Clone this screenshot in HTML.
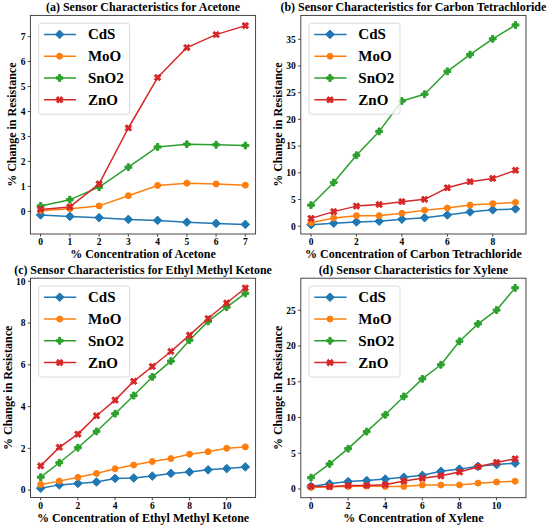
<!DOCTYPE html>
<html><head><meta charset="utf-8"><style>
html,body{margin:0;padding:0;background:#fff;width:550px;height:527px;overflow:hidden}
svg{display:block}
text{font-family:"Liberation Serif", serif;font-weight:bold;fill:#000}
</style></head><body>
<svg width="550" height="527" viewBox="0 0 550 527">
<rect width="550" height="527" fill="#fff"/>
<polyline points="40.60,214.90 69.85,216.39 99.10,217.64 128.35,219.39 157.60,220.39 186.85,222.14 216.10,223.39 245.35,224.38" fill="none" stroke="#1f77b4" stroke-width="1.5" stroke-linejoin="round" stroke-linecap="round"/>
<polygon points="40.60,210.60 44.90,214.90 40.60,219.20 36.30,214.90" fill="#1f77b4" stroke="#1f77b4" stroke-width="1.0" stroke-linejoin="miter"/>
<polygon points="69.85,212.09 74.15,216.39 69.85,220.69 65.55,216.39" fill="#1f77b4" stroke="#1f77b4" stroke-width="1.0" stroke-linejoin="miter"/>
<polygon points="99.10,213.34 103.40,217.64 99.10,221.94 94.80,217.64" fill="#1f77b4" stroke="#1f77b4" stroke-width="1.0" stroke-linejoin="miter"/>
<polygon points="128.35,215.09 132.65,219.39 128.35,223.69 124.05,219.39" fill="#1f77b4" stroke="#1f77b4" stroke-width="1.0" stroke-linejoin="miter"/>
<polygon points="157.60,216.09 161.90,220.39 157.60,224.69 153.30,220.39" fill="#1f77b4" stroke="#1f77b4" stroke-width="1.0" stroke-linejoin="miter"/>
<polygon points="186.85,217.84 191.15,222.14 186.85,226.44 182.55,222.14" fill="#1f77b4" stroke="#1f77b4" stroke-width="1.0" stroke-linejoin="miter"/>
<polygon points="216.10,219.09 220.40,223.39 216.10,227.69 211.80,223.39" fill="#1f77b4" stroke="#1f77b4" stroke-width="1.0" stroke-linejoin="miter"/>
<polygon points="245.35,220.08 249.65,224.38 245.35,228.68 241.05,224.38" fill="#1f77b4" stroke="#1f77b4" stroke-width="1.0" stroke-linejoin="miter"/>
<polyline points="40.60,210.65 69.85,208.65 99.10,205.91 128.35,195.67 157.60,185.43 186.85,183.18 216.10,183.93 245.35,185.18" fill="none" stroke="#ff7f0e" stroke-width="1.5" stroke-linejoin="round" stroke-linecap="round"/>
<circle cx="40.60" cy="210.65" r="3.0" fill="#ff7f0e" stroke="#ff7f0e" stroke-width="1.0" stroke-linejoin="miter"/>
<circle cx="69.85" cy="208.65" r="3.0" fill="#ff7f0e" stroke="#ff7f0e" stroke-width="1.0" stroke-linejoin="miter"/>
<circle cx="99.10" cy="205.91" r="3.0" fill="#ff7f0e" stroke="#ff7f0e" stroke-width="1.0" stroke-linejoin="miter"/>
<circle cx="128.35" cy="195.67" r="3.0" fill="#ff7f0e" stroke="#ff7f0e" stroke-width="1.0" stroke-linejoin="miter"/>
<circle cx="157.60" cy="185.43" r="3.0" fill="#ff7f0e" stroke="#ff7f0e" stroke-width="1.0" stroke-linejoin="miter"/>
<circle cx="186.85" cy="183.18" r="3.0" fill="#ff7f0e" stroke="#ff7f0e" stroke-width="1.0" stroke-linejoin="miter"/>
<circle cx="216.10" cy="183.93" r="3.0" fill="#ff7f0e" stroke="#ff7f0e" stroke-width="1.0" stroke-linejoin="miter"/>
<circle cx="245.35" cy="185.18" r="3.0" fill="#ff7f0e" stroke="#ff7f0e" stroke-width="1.0" stroke-linejoin="miter"/>
<polyline points="40.60,205.91 69.85,199.66 99.10,187.18 128.35,167.20 157.60,146.98 186.85,144.23 216.10,144.73 245.35,145.48" fill="none" stroke="#2ca02c" stroke-width="1.5" stroke-linejoin="round" stroke-linecap="round"/>
<polygon points="39.47,202.51 41.73,202.51 41.73,204.77 44.00,204.77 44.00,207.04 41.73,207.04 41.73,209.31 39.47,209.31 39.47,207.04 37.20,207.04 37.20,204.77 39.47,204.77" fill="#2ca02c" stroke="#2ca02c" stroke-width="1.0" stroke-linejoin="miter"/>
<polygon points="68.72,196.26 70.98,196.26 70.98,198.53 73.25,198.53 73.25,200.80 70.98,200.80 70.98,203.06 68.72,203.06 68.72,200.80 66.45,200.80 66.45,198.53 68.72,198.53" fill="#2ca02c" stroke="#2ca02c" stroke-width="1.0" stroke-linejoin="miter"/>
<polygon points="97.97,183.78 100.23,183.78 100.23,186.05 102.50,186.05 102.50,188.31 100.23,188.31 100.23,190.58 97.97,190.58 97.97,188.31 95.70,188.31 95.70,186.05 97.97,186.05" fill="#2ca02c" stroke="#2ca02c" stroke-width="1.0" stroke-linejoin="miter"/>
<polygon points="127.22,163.80 129.48,163.80 129.48,166.07 131.75,166.07 131.75,168.34 129.48,168.34 129.48,170.60 127.22,170.60 127.22,168.34 124.95,168.34 124.95,166.07 127.22,166.07" fill="#2ca02c" stroke="#2ca02c" stroke-width="1.0" stroke-linejoin="miter"/>
<polygon points="156.47,143.58 158.73,143.58 158.73,145.84 161.00,145.84 161.00,148.11 158.73,148.11 158.73,150.38 156.47,150.38 156.47,148.11 154.20,148.11 154.20,145.84 156.47,145.84" fill="#2ca02c" stroke="#2ca02c" stroke-width="1.0" stroke-linejoin="miter"/>
<polygon points="185.72,140.83 187.98,140.83 187.98,143.10 190.25,143.10 190.25,145.36 187.98,145.36 187.98,147.63 185.72,147.63 185.72,145.36 183.45,145.36 183.45,143.10 185.72,143.10" fill="#2ca02c" stroke="#2ca02c" stroke-width="1.0" stroke-linejoin="miter"/>
<polygon points="214.97,141.33 217.23,141.33 217.23,143.60 219.50,143.60 219.50,145.86 217.23,145.86 217.23,148.13 214.97,148.13 214.97,145.86 212.70,145.86 212.70,143.60 214.97,143.60" fill="#2ca02c" stroke="#2ca02c" stroke-width="1.0" stroke-linejoin="miter"/>
<polygon points="244.22,142.08 246.48,142.08 246.48,144.35 248.75,144.35 248.75,146.61 246.48,146.61 246.48,148.88 244.22,148.88 244.22,146.61 241.95,146.61 241.95,144.35 244.22,144.35" fill="#2ca02c" stroke="#2ca02c" stroke-width="1.0" stroke-linejoin="miter"/>
<polyline points="40.60,209.40 69.85,206.91 99.10,183.93 128.35,128.00 157.60,77.56 186.85,47.60 216.10,34.61 245.35,25.62" fill="none" stroke="#d62728" stroke-width="1.5" stroke-linejoin="round" stroke-linecap="round"/>
<polygon points="38.95,206.10 40.60,207.75 42.25,206.10 43.90,207.75 42.25,209.40 43.90,211.05 42.25,212.70 40.60,211.05 38.95,212.70 37.30,211.05 38.95,209.40 37.30,207.75" fill="#d62728" stroke="#d62728" stroke-width="1.0" stroke-linejoin="miter"/>
<polygon points="68.20,203.61 69.85,205.26 71.50,203.61 73.15,205.26 71.50,206.91 73.15,208.56 71.50,210.21 69.85,208.56 68.20,210.21 66.55,208.56 68.20,206.91 66.55,205.26" fill="#d62728" stroke="#d62728" stroke-width="1.0" stroke-linejoin="miter"/>
<polygon points="97.45,180.63 99.10,182.28 100.75,180.63 102.40,182.28 100.75,183.93 102.40,185.58 100.75,187.23 99.10,185.58 97.45,187.23 95.80,185.58 97.45,183.93 95.80,182.28" fill="#d62728" stroke="#d62728" stroke-width="1.0" stroke-linejoin="miter"/>
<polygon points="126.70,124.70 128.35,126.35 130.00,124.70 131.65,126.35 130.00,128.00 131.65,129.65 130.00,131.30 128.35,129.65 126.70,131.30 125.05,129.65 126.70,128.00 125.05,126.35" fill="#d62728" stroke="#d62728" stroke-width="1.0" stroke-linejoin="miter"/>
<polygon points="155.95,74.26 157.60,75.91 159.25,74.26 160.90,75.91 159.25,77.56 160.90,79.21 159.25,80.86 157.60,79.21 155.95,80.86 154.30,79.21 155.95,77.56 154.30,75.91" fill="#d62728" stroke="#d62728" stroke-width="1.0" stroke-linejoin="miter"/>
<polygon points="185.20,44.30 186.85,45.95 188.50,44.30 190.15,45.95 188.50,47.60 190.15,49.25 188.50,50.90 186.85,49.25 185.20,50.90 183.55,49.25 185.20,47.60 183.55,45.95" fill="#d62728" stroke="#d62728" stroke-width="1.0" stroke-linejoin="miter"/>
<polygon points="214.45,31.31 216.10,32.96 217.75,31.31 219.40,32.96 217.75,34.61 219.40,36.26 217.75,37.91 216.10,36.26 214.45,37.91 212.80,36.26 214.45,34.61 212.80,32.96" fill="#d62728" stroke="#d62728" stroke-width="1.0" stroke-linejoin="miter"/>
<polygon points="243.70,22.32 245.35,23.97 247.00,22.32 248.65,23.97 247.00,25.62 248.65,27.27 247.00,28.92 245.35,27.27 243.70,28.92 242.05,27.27 243.70,25.62 242.05,23.97" fill="#d62728" stroke="#d62728" stroke-width="1.0" stroke-linejoin="miter"/>
<rect x="30.4" y="15.4" width="225.2" height="218.6" fill="none" stroke="#333" stroke-width="0.9"/>
<line x1="40.60" y1="234.0" x2="40.60" y2="236.7" stroke="#333" stroke-width="0.9"/>
<text x="40.60" y="245.4" text-anchor="middle" font-size="9.5">0</text>
<line x1="69.85" y1="234.0" x2="69.85" y2="236.7" stroke="#333" stroke-width="0.9"/>
<text x="69.85" y="245.4" text-anchor="middle" font-size="9.5">1</text>
<line x1="99.10" y1="234.0" x2="99.10" y2="236.7" stroke="#333" stroke-width="0.9"/>
<text x="99.10" y="245.4" text-anchor="middle" font-size="9.5">2</text>
<line x1="128.35" y1="234.0" x2="128.35" y2="236.7" stroke="#333" stroke-width="0.9"/>
<text x="128.35" y="245.4" text-anchor="middle" font-size="9.5">3</text>
<line x1="157.60" y1="234.0" x2="157.60" y2="236.7" stroke="#333" stroke-width="0.9"/>
<text x="157.60" y="245.4" text-anchor="middle" font-size="9.5">4</text>
<line x1="186.85" y1="234.0" x2="186.85" y2="236.7" stroke="#333" stroke-width="0.9"/>
<text x="186.85" y="245.4" text-anchor="middle" font-size="9.5">5</text>
<line x1="216.10" y1="234.0" x2="216.10" y2="236.7" stroke="#333" stroke-width="0.9"/>
<text x="216.10" y="245.4" text-anchor="middle" font-size="9.5">6</text>
<line x1="245.35" y1="234.0" x2="245.35" y2="236.7" stroke="#333" stroke-width="0.9"/>
<text x="245.35" y="245.4" text-anchor="middle" font-size="9.5">7</text>
<line x1="27.7" y1="211.40" x2="30.4" y2="211.40" stroke="#333" stroke-width="0.9"/>
<text x="25.4" y="214.70" text-anchor="end" font-size="9.5">0</text>
<line x1="27.7" y1="186.43" x2="30.4" y2="186.43" stroke="#333" stroke-width="0.9"/>
<text x="25.4" y="189.73" text-anchor="end" font-size="9.5">1</text>
<line x1="27.7" y1="161.46" x2="30.4" y2="161.46" stroke="#333" stroke-width="0.9"/>
<text x="25.4" y="164.76" text-anchor="end" font-size="9.5">2</text>
<line x1="27.7" y1="136.49" x2="30.4" y2="136.49" stroke="#333" stroke-width="0.9"/>
<text x="25.4" y="139.79" text-anchor="end" font-size="9.5">3</text>
<line x1="27.7" y1="111.52" x2="30.4" y2="111.52" stroke="#333" stroke-width="0.9"/>
<text x="25.4" y="114.82" text-anchor="end" font-size="9.5">4</text>
<line x1="27.7" y1="86.55" x2="30.4" y2="86.55" stroke="#333" stroke-width="0.9"/>
<text x="25.4" y="89.85" text-anchor="end" font-size="9.5">5</text>
<line x1="27.7" y1="61.58" x2="30.4" y2="61.58" stroke="#333" stroke-width="0.9"/>
<text x="25.4" y="64.88" text-anchor="end" font-size="9.5">6</text>
<line x1="27.7" y1="36.61" x2="30.4" y2="36.61" stroke="#333" stroke-width="0.9"/>
<text x="25.4" y="39.91" text-anchor="end" font-size="9.5">7</text>
<text x="143.0" y="11.100000000000001" text-anchor="middle" font-size="12">(a) Sensor Characteristics for Acetone</text>
<text x="143.0" y="258.2" text-anchor="middle" font-size="12">% Concentration of Acetone</text>
<text transform="translate(16.299999999999997,124.7) rotate(-90)" x="0" y="0" text-anchor="middle" font-size="12">% Change in Resistance</text>
<rect x="38.599999999999994" y="23.2" width="91" height="91" rx="2.5" fill="#fff" fill-opacity="0.8" stroke="#d6d6d6" stroke-width="0.9"/>
<line x1="43.89999999999999" y1="34.4" x2="76.1" y2="34.4" stroke="#1f77b4" stroke-width="1.5"/>
<polygon points="59.60,30.10 63.90,34.40 59.60,38.70 55.30,34.40" fill="#1f77b4" stroke="#1f77b4" stroke-width="1.0" stroke-linejoin="miter"/>
<text x="87.89999999999999" y="39.3" font-size="15">CdS</text>
<line x1="43.89999999999999" y1="56.2" x2="76.1" y2="56.2" stroke="#ff7f0e" stroke-width="1.5"/>
<circle cx="59.60" cy="56.20" r="3.0" fill="#ff7f0e" stroke="#ff7f0e" stroke-width="1.0" stroke-linejoin="miter"/>
<text x="87.89999999999999" y="61.1" font-size="15">MoO</text>
<line x1="43.89999999999999" y1="78.0" x2="76.1" y2="78.0" stroke="#2ca02c" stroke-width="1.5"/>
<polygon points="58.47,74.60 60.73,74.60 60.73,76.87 63.00,76.87 63.00,79.13 60.73,79.13 60.73,81.40 58.47,81.40 58.47,79.13 56.20,79.13 56.20,76.87 58.47,76.87" fill="#2ca02c" stroke="#2ca02c" stroke-width="1.0" stroke-linejoin="miter"/>
<text x="87.89999999999999" y="82.9" font-size="15">SnO2</text>
<line x1="43.89999999999999" y1="99.80000000000001" x2="76.1" y2="99.80000000000001" stroke="#d62728" stroke-width="1.5"/>
<polygon points="57.95,96.50 59.60,98.15 61.25,96.50 62.90,98.15 61.25,99.80 62.90,101.45 61.25,103.10 59.60,101.45 57.95,103.10 56.30,101.45 57.95,99.80 56.30,98.15" fill="#d62728" stroke="#d62728" stroke-width="1.0" stroke-linejoin="miter"/>
<text x="87.89999999999999" y="104.70000000000002" font-size="15">ZnO</text>
<polyline points="311.00,224.70 333.72,223.21 356.44,221.93 379.16,221.23 401.88,219.20 424.60,217.71 447.32,215.04 470.04,211.94 492.76,209.86 515.48,208.90" fill="none" stroke="#1f77b4" stroke-width="1.5" stroke-linejoin="round" stroke-linecap="round"/>
<polygon points="311.00,220.40 315.30,224.70 311.00,229.00 306.70,224.70" fill="#1f77b4" stroke="#1f77b4" stroke-width="1.0" stroke-linejoin="miter"/>
<polygon points="333.72,218.91 338.02,223.21 333.72,227.51 329.42,223.21" fill="#1f77b4" stroke="#1f77b4" stroke-width="1.0" stroke-linejoin="miter"/>
<polygon points="356.44,217.63 360.74,221.93 356.44,226.23 352.14,221.93" fill="#1f77b4" stroke="#1f77b4" stroke-width="1.0" stroke-linejoin="miter"/>
<polygon points="379.16,216.93 383.46,221.23 379.16,225.53 374.86,221.23" fill="#1f77b4" stroke="#1f77b4" stroke-width="1.0" stroke-linejoin="miter"/>
<polygon points="401.88,214.90 406.18,219.20 401.88,223.50 397.58,219.20" fill="#1f77b4" stroke="#1f77b4" stroke-width="1.0" stroke-linejoin="miter"/>
<polygon points="424.60,213.41 428.90,217.71 424.60,222.01 420.30,217.71" fill="#1f77b4" stroke="#1f77b4" stroke-width="1.0" stroke-linejoin="miter"/>
<polygon points="447.32,210.74 451.62,215.04 447.32,219.34 443.02,215.04" fill="#1f77b4" stroke="#1f77b4" stroke-width="1.0" stroke-linejoin="miter"/>
<polygon points="470.04,207.64 474.34,211.94 470.04,216.24 465.74,211.94" fill="#1f77b4" stroke="#1f77b4" stroke-width="1.0" stroke-linejoin="miter"/>
<polygon points="492.76,205.56 497.06,209.86 492.76,214.16 488.46,209.86" fill="#1f77b4" stroke="#1f77b4" stroke-width="1.0" stroke-linejoin="miter"/>
<polygon points="515.48,204.60 519.78,208.90 515.48,213.20 511.18,208.90" fill="#1f77b4" stroke="#1f77b4" stroke-width="1.0" stroke-linejoin="miter"/>
<polyline points="311.00,222.73 333.72,217.92 356.44,215.68 379.16,215.63 401.88,213.28 424.60,210.23 447.32,207.99 470.04,205.11 492.76,203.67 515.48,202.38" fill="none" stroke="#ff7f0e" stroke-width="1.5" stroke-linejoin="round" stroke-linecap="round"/>
<circle cx="311.00" cy="222.73" r="3.0" fill="#ff7f0e" stroke="#ff7f0e" stroke-width="1.0" stroke-linejoin="miter"/>
<circle cx="333.72" cy="217.92" r="3.0" fill="#ff7f0e" stroke="#ff7f0e" stroke-width="1.0" stroke-linejoin="miter"/>
<circle cx="356.44" cy="215.68" r="3.0" fill="#ff7f0e" stroke="#ff7f0e" stroke-width="1.0" stroke-linejoin="miter"/>
<circle cx="379.16" cy="215.63" r="3.0" fill="#ff7f0e" stroke="#ff7f0e" stroke-width="1.0" stroke-linejoin="miter"/>
<circle cx="401.88" cy="213.28" r="3.0" fill="#ff7f0e" stroke="#ff7f0e" stroke-width="1.0" stroke-linejoin="miter"/>
<circle cx="424.60" cy="210.23" r="3.0" fill="#ff7f0e" stroke="#ff7f0e" stroke-width="1.0" stroke-linejoin="miter"/>
<circle cx="447.32" cy="207.99" r="3.0" fill="#ff7f0e" stroke="#ff7f0e" stroke-width="1.0" stroke-linejoin="miter"/>
<circle cx="470.04" cy="205.11" r="3.0" fill="#ff7f0e" stroke="#ff7f0e" stroke-width="1.0" stroke-linejoin="miter"/>
<circle cx="492.76" cy="203.67" r="3.0" fill="#ff7f0e" stroke="#ff7f0e" stroke-width="1.0" stroke-linejoin="miter"/>
<circle cx="515.48" cy="202.38" r="3.0" fill="#ff7f0e" stroke="#ff7f0e" stroke-width="1.0" stroke-linejoin="miter"/>
<polyline points="311.00,205.16 333.72,182.52 356.44,155.23 379.16,131.41 401.88,100.98 424.60,94.20 447.32,71.34 470.04,54.57 492.76,38.82 515.48,24.99" fill="none" stroke="#2ca02c" stroke-width="1.5" stroke-linejoin="round" stroke-linecap="round"/>
<polygon points="309.87,201.76 312.13,201.76 312.13,204.03 314.40,204.03 314.40,206.29 312.13,206.29 312.13,208.56 309.87,208.56 309.87,206.29 307.60,206.29 307.60,204.03 309.87,204.03" fill="#2ca02c" stroke="#2ca02c" stroke-width="1.0" stroke-linejoin="miter"/>
<polygon points="332.59,179.12 334.85,179.12 334.85,181.39 337.12,181.39 337.12,183.65 334.85,183.65 334.85,185.92 332.59,185.92 332.59,183.65 330.32,183.65 330.32,181.39 332.59,181.39" fill="#2ca02c" stroke="#2ca02c" stroke-width="1.0" stroke-linejoin="miter"/>
<polygon points="355.31,151.83 357.57,151.83 357.57,154.10 359.84,154.10 359.84,156.36 357.57,156.36 357.57,158.63 355.31,158.63 355.31,156.36 353.04,156.36 353.04,154.10 355.31,154.10" fill="#2ca02c" stroke="#2ca02c" stroke-width="1.0" stroke-linejoin="miter"/>
<polygon points="378.03,128.01 380.29,128.01 380.29,130.28 382.56,130.28 382.56,132.55 380.29,132.55 380.29,134.81 378.03,134.81 378.03,132.55 375.76,132.55 375.76,130.28 378.03,130.28" fill="#2ca02c" stroke="#2ca02c" stroke-width="1.0" stroke-linejoin="miter"/>
<polygon points="400.75,97.58 403.01,97.58 403.01,99.84 405.28,99.84 405.28,102.11 403.01,102.11 403.01,104.38 400.75,104.38 400.75,102.11 398.48,102.11 398.48,99.84 400.75,99.84" fill="#2ca02c" stroke="#2ca02c" stroke-width="1.0" stroke-linejoin="miter"/>
<polygon points="423.47,90.80 425.73,90.80 425.73,93.06 428.00,93.06 428.00,95.33 425.73,95.33 425.73,97.60 423.47,97.60 423.47,95.33 421.20,95.33 421.20,93.06 423.47,93.06" fill="#2ca02c" stroke="#2ca02c" stroke-width="1.0" stroke-linejoin="miter"/>
<polygon points="446.19,67.94 448.45,67.94 448.45,70.21 450.72,70.21 450.72,72.47 448.45,72.47 448.45,74.74 446.19,74.74 446.19,72.47 443.92,72.47 443.92,70.21 446.19,70.21" fill="#2ca02c" stroke="#2ca02c" stroke-width="1.0" stroke-linejoin="miter"/>
<polygon points="468.91,51.17 471.17,51.17 471.17,53.44 473.44,53.44 473.44,55.71 471.17,55.71 471.17,57.97 468.91,57.97 468.91,55.71 466.64,55.71 466.64,53.44 468.91,53.44" fill="#2ca02c" stroke="#2ca02c" stroke-width="1.0" stroke-linejoin="miter"/>
<polygon points="491.63,35.42 493.89,35.42 493.89,37.69 496.16,37.69 496.16,39.95 493.89,39.95 493.89,42.22 491.63,42.22 491.63,39.95 489.36,39.95 489.36,37.69 491.63,37.69" fill="#2ca02c" stroke="#2ca02c" stroke-width="1.0" stroke-linejoin="miter"/>
<polygon points="514.35,21.59 516.61,21.59 516.61,23.86 518.88,23.86 518.88,26.12 516.61,26.12 516.61,28.39 514.35,28.39 514.35,26.12 512.08,26.12 512.08,23.86 514.35,23.86" fill="#2ca02c" stroke="#2ca02c" stroke-width="1.0" stroke-linejoin="miter"/>
<polyline points="311.00,218.40 333.72,211.62 356.44,206.12 379.16,204.52 401.88,201.64 424.60,199.34 447.32,187.81 470.04,181.72 492.76,178.41 515.48,170.24" fill="none" stroke="#d62728" stroke-width="1.5" stroke-linejoin="round" stroke-linecap="round"/>
<polygon points="309.35,215.10 311.00,216.75 312.65,215.10 314.30,216.75 312.65,218.40 314.30,220.05 312.65,221.70 311.00,220.05 309.35,221.70 307.70,220.05 309.35,218.40 307.70,216.75" fill="#d62728" stroke="#d62728" stroke-width="1.0" stroke-linejoin="miter"/>
<polygon points="332.07,208.32 333.72,209.97 335.37,208.32 337.02,209.97 335.37,211.62 337.02,213.27 335.37,214.92 333.72,213.27 332.07,214.92 330.42,213.27 332.07,211.62 330.42,209.97" fill="#d62728" stroke="#d62728" stroke-width="1.0" stroke-linejoin="miter"/>
<polygon points="354.79,202.82 356.44,204.47 358.09,202.82 359.74,204.47 358.09,206.12 359.74,207.77 358.09,209.42 356.44,207.77 354.79,209.42 353.14,207.77 354.79,206.12 353.14,204.47" fill="#d62728" stroke="#d62728" stroke-width="1.0" stroke-linejoin="miter"/>
<polygon points="377.51,201.22 379.16,202.87 380.81,201.22 382.46,202.87 380.81,204.52 382.46,206.17 380.81,207.82 379.16,206.17 377.51,207.82 375.86,206.17 377.51,204.52 375.86,202.87" fill="#d62728" stroke="#d62728" stroke-width="1.0" stroke-linejoin="miter"/>
<polygon points="400.23,198.34 401.88,199.99 403.53,198.34 405.18,199.99 403.53,201.64 405.18,203.29 403.53,204.94 401.88,203.29 400.23,204.94 398.58,203.29 400.23,201.64 398.58,199.99" fill="#d62728" stroke="#d62728" stroke-width="1.0" stroke-linejoin="miter"/>
<polygon points="422.95,196.04 424.60,197.69 426.25,196.04 427.90,197.69 426.25,199.34 427.90,200.99 426.25,202.64 424.60,200.99 422.95,202.64 421.30,200.99 422.95,199.34 421.30,197.69" fill="#d62728" stroke="#d62728" stroke-width="1.0" stroke-linejoin="miter"/>
<polygon points="445.67,184.51 447.32,186.16 448.97,184.51 450.62,186.16 448.97,187.81 450.62,189.46 448.97,191.11 447.32,189.46 445.67,191.11 444.02,189.46 445.67,187.81 444.02,186.16" fill="#d62728" stroke="#d62728" stroke-width="1.0" stroke-linejoin="miter"/>
<polygon points="468.39,178.42 470.04,180.07 471.69,178.42 473.34,180.07 471.69,181.72 473.34,183.37 471.69,185.02 470.04,183.37 468.39,185.02 466.74,183.37 468.39,181.72 466.74,180.07" fill="#d62728" stroke="#d62728" stroke-width="1.0" stroke-linejoin="miter"/>
<polygon points="491.11,175.11 492.76,176.76 494.41,175.11 496.06,176.76 494.41,178.41 496.06,180.06 494.41,181.71 492.76,180.06 491.11,181.71 489.46,180.06 491.11,178.41 489.46,176.76" fill="#d62728" stroke="#d62728" stroke-width="1.0" stroke-linejoin="miter"/>
<polygon points="513.83,166.94 515.48,168.59 517.13,166.94 518.78,168.59 517.13,170.24 518.78,171.89 517.13,173.54 515.48,171.89 513.83,173.54 512.18,171.89 513.83,170.24 512.18,168.59" fill="#d62728" stroke="#d62728" stroke-width="1.0" stroke-linejoin="miter"/>
<rect x="300.8" y="15.4" width="225.2" height="218.6" fill="none" stroke="#333" stroke-width="0.9"/>
<line x1="311.00" y1="234.0" x2="311.00" y2="236.7" stroke="#333" stroke-width="0.9"/>
<text x="311.00" y="245.4" text-anchor="middle" font-size="9.5">0</text>
<line x1="356.44" y1="234.0" x2="356.44" y2="236.7" stroke="#333" stroke-width="0.9"/>
<text x="356.44" y="245.4" text-anchor="middle" font-size="9.5">2</text>
<line x1="401.88" y1="234.0" x2="401.88" y2="236.7" stroke="#333" stroke-width="0.9"/>
<text x="401.88" y="245.4" text-anchor="middle" font-size="9.5">4</text>
<line x1="447.32" y1="234.0" x2="447.32" y2="236.7" stroke="#333" stroke-width="0.9"/>
<text x="447.32" y="245.4" text-anchor="middle" font-size="9.5">6</text>
<line x1="492.76" y1="234.0" x2="492.76" y2="236.7" stroke="#333" stroke-width="0.9"/>
<text x="492.76" y="245.4" text-anchor="middle" font-size="9.5">8</text>
<line x1="298.1" y1="226.20" x2="300.8" y2="226.20" stroke="#333" stroke-width="0.9"/>
<text x="295.8" y="229.50" text-anchor="end" font-size="9.5">0</text>
<line x1="298.1" y1="199.50" x2="300.8" y2="199.50" stroke="#333" stroke-width="0.9"/>
<text x="295.8" y="202.80" text-anchor="end" font-size="9.5">5</text>
<line x1="298.1" y1="172.80" x2="300.8" y2="172.80" stroke="#333" stroke-width="0.9"/>
<text x="295.8" y="176.10" text-anchor="end" font-size="9.5">10</text>
<line x1="298.1" y1="146.10" x2="300.8" y2="146.10" stroke="#333" stroke-width="0.9"/>
<text x="295.8" y="149.40" text-anchor="end" font-size="9.5">15</text>
<line x1="298.1" y1="119.40" x2="300.8" y2="119.40" stroke="#333" stroke-width="0.9"/>
<text x="295.8" y="122.70" text-anchor="end" font-size="9.5">20</text>
<line x1="298.1" y1="92.70" x2="300.8" y2="92.70" stroke="#333" stroke-width="0.9"/>
<text x="295.8" y="96.00" text-anchor="end" font-size="9.5">25</text>
<line x1="298.1" y1="66.00" x2="300.8" y2="66.00" stroke="#333" stroke-width="0.9"/>
<text x="295.8" y="69.30" text-anchor="end" font-size="9.5">30</text>
<line x1="298.1" y1="39.30" x2="300.8" y2="39.30" stroke="#333" stroke-width="0.9"/>
<text x="295.8" y="42.60" text-anchor="end" font-size="9.5">35</text>
<text x="413.4" y="11.100000000000001" text-anchor="middle" font-size="12">(b) Sensor Characteristics for Carbon Tetrachloride</text>
<text x="413.4" y="258.2" text-anchor="middle" font-size="12">% Concentration of Carbon Tetrachloride</text>
<text transform="translate(282.40000000000003,124.7) rotate(-90)" x="0" y="0" text-anchor="middle" font-size="12">% Change in Resistance</text>
<rect x="309.0" y="23.2" width="91" height="91" rx="2.5" fill="#fff" fill-opacity="0.8" stroke="#d6d6d6" stroke-width="0.9"/>
<line x1="314.3" y1="34.4" x2="346.5" y2="34.4" stroke="#1f77b4" stroke-width="1.5"/>
<polygon points="330.00,30.10 334.30,34.40 330.00,38.70 325.70,34.40" fill="#1f77b4" stroke="#1f77b4" stroke-width="1.0" stroke-linejoin="miter"/>
<text x="358.3" y="39.3" font-size="15">CdS</text>
<line x1="314.3" y1="56.2" x2="346.5" y2="56.2" stroke="#ff7f0e" stroke-width="1.5"/>
<circle cx="330.00" cy="56.20" r="3.0" fill="#ff7f0e" stroke="#ff7f0e" stroke-width="1.0" stroke-linejoin="miter"/>
<text x="358.3" y="61.1" font-size="15">MoO</text>
<line x1="314.3" y1="78.0" x2="346.5" y2="78.0" stroke="#2ca02c" stroke-width="1.5"/>
<polygon points="328.87,74.60 331.13,74.60 331.13,76.87 333.40,76.87 333.40,79.13 331.13,79.13 331.13,81.40 328.87,81.40 328.87,79.13 326.60,79.13 326.60,76.87 328.87,76.87" fill="#2ca02c" stroke="#2ca02c" stroke-width="1.0" stroke-linejoin="miter"/>
<text x="358.3" y="82.9" font-size="15">SnO2</text>
<line x1="314.3" y1="99.80000000000001" x2="346.5" y2="99.80000000000001" stroke="#d62728" stroke-width="1.5"/>
<polygon points="328.35,96.50 330.00,98.15 331.65,96.50 333.30,98.15 331.65,99.80 333.30,101.45 331.65,103.10 330.00,101.45 328.35,103.10 326.70,101.45 328.35,99.80 326.70,98.15" fill="#d62728" stroke="#d62728" stroke-width="1.0" stroke-linejoin="miter"/>
<text x="358.3" y="104.70000000000002" font-size="15">ZnO</text>
<polyline points="40.70,488.22 59.30,484.88 77.90,483.42 96.50,481.96 115.10,478.41 133.70,477.99 152.30,476.11 170.90,473.40 189.50,471.93 208.10,469.85 226.70,468.59 245.30,466.92" fill="none" stroke="#1f77b4" stroke-width="1.5" stroke-linejoin="round" stroke-linecap="round"/>
<polygon points="40.70,483.92 45.00,488.22 40.70,492.52 36.40,488.22" fill="#1f77b4" stroke="#1f77b4" stroke-width="1.0" stroke-linejoin="miter"/>
<polygon points="59.30,480.58 63.60,484.88 59.30,489.18 55.00,484.88" fill="#1f77b4" stroke="#1f77b4" stroke-width="1.0" stroke-linejoin="miter"/>
<polygon points="77.90,479.12 82.20,483.42 77.90,487.72 73.60,483.42" fill="#1f77b4" stroke="#1f77b4" stroke-width="1.0" stroke-linejoin="miter"/>
<polygon points="96.50,477.66 100.80,481.96 96.50,486.26 92.20,481.96" fill="#1f77b4" stroke="#1f77b4" stroke-width="1.0" stroke-linejoin="miter"/>
<polygon points="115.10,474.11 119.40,478.41 115.10,482.71 110.80,478.41" fill="#1f77b4" stroke="#1f77b4" stroke-width="1.0" stroke-linejoin="miter"/>
<polygon points="133.70,473.69 138.00,477.99 133.70,482.29 129.40,477.99" fill="#1f77b4" stroke="#1f77b4" stroke-width="1.0" stroke-linejoin="miter"/>
<polygon points="152.30,471.81 156.60,476.11 152.30,480.41 148.00,476.11" fill="#1f77b4" stroke="#1f77b4" stroke-width="1.0" stroke-linejoin="miter"/>
<polygon points="170.90,469.10 175.20,473.40 170.90,477.70 166.60,473.40" fill="#1f77b4" stroke="#1f77b4" stroke-width="1.0" stroke-linejoin="miter"/>
<polygon points="189.50,467.63 193.80,471.93 189.50,476.23 185.20,471.93" fill="#1f77b4" stroke="#1f77b4" stroke-width="1.0" stroke-linejoin="miter"/>
<polygon points="208.10,465.55 212.40,469.85 208.10,474.15 203.80,469.85" fill="#1f77b4" stroke="#1f77b4" stroke-width="1.0" stroke-linejoin="miter"/>
<polygon points="226.70,464.29 231.00,468.59 226.70,472.89 222.40,468.59" fill="#1f77b4" stroke="#1f77b4" stroke-width="1.0" stroke-linejoin="miter"/>
<polygon points="245.30,462.62 249.60,466.92 245.30,471.22 241.00,466.92" fill="#1f77b4" stroke="#1f77b4" stroke-width="1.0" stroke-linejoin="miter"/>
<polyline points="40.70,484.46 59.30,481.12 77.90,477.36 96.50,473.40 115.10,468.80 133.70,465.04 152.30,461.49 170.90,458.57 189.50,454.19 208.10,451.68 226.70,448.34 245.30,446.88" fill="none" stroke="#ff7f0e" stroke-width="1.5" stroke-linejoin="round" stroke-linecap="round"/>
<circle cx="40.70" cy="484.46" r="3.0" fill="#ff7f0e" stroke="#ff7f0e" stroke-width="1.0" stroke-linejoin="miter"/>
<circle cx="59.30" cy="481.12" r="3.0" fill="#ff7f0e" stroke="#ff7f0e" stroke-width="1.0" stroke-linejoin="miter"/>
<circle cx="77.90" cy="477.36" r="3.0" fill="#ff7f0e" stroke="#ff7f0e" stroke-width="1.0" stroke-linejoin="miter"/>
<circle cx="96.50" cy="473.40" r="3.0" fill="#ff7f0e" stroke="#ff7f0e" stroke-width="1.0" stroke-linejoin="miter"/>
<circle cx="115.10" cy="468.80" r="3.0" fill="#ff7f0e" stroke="#ff7f0e" stroke-width="1.0" stroke-linejoin="miter"/>
<circle cx="133.70" cy="465.04" r="3.0" fill="#ff7f0e" stroke="#ff7f0e" stroke-width="1.0" stroke-linejoin="miter"/>
<circle cx="152.30" cy="461.49" r="3.0" fill="#ff7f0e" stroke="#ff7f0e" stroke-width="1.0" stroke-linejoin="miter"/>
<circle cx="170.90" cy="458.57" r="3.0" fill="#ff7f0e" stroke="#ff7f0e" stroke-width="1.0" stroke-linejoin="miter"/>
<circle cx="189.50" cy="454.19" r="3.0" fill="#ff7f0e" stroke="#ff7f0e" stroke-width="1.0" stroke-linejoin="miter"/>
<circle cx="208.10" cy="451.68" r="3.0" fill="#ff7f0e" stroke="#ff7f0e" stroke-width="1.0" stroke-linejoin="miter"/>
<circle cx="226.70" cy="448.34" r="3.0" fill="#ff7f0e" stroke="#ff7f0e" stroke-width="1.0" stroke-linejoin="miter"/>
<circle cx="245.30" cy="446.88" r="3.0" fill="#ff7f0e" stroke="#ff7f0e" stroke-width="1.0" stroke-linejoin="miter"/>
<polyline points="40.70,477.15 59.30,462.75 77.90,447.71 96.50,431.43 115.10,413.68 133.70,395.51 152.30,376.93 170.90,361.06 189.50,340.18 208.10,321.39 226.70,307.19 245.30,293.41" fill="none" stroke="#2ca02c" stroke-width="1.5" stroke-linejoin="round" stroke-linecap="round"/>
<polygon points="39.57,473.75 41.83,473.75 41.83,476.02 44.10,476.02 44.10,478.29 41.83,478.29 41.83,480.55 39.57,480.55 39.57,478.29 37.30,478.29 37.30,476.02 39.57,476.02" fill="#2ca02c" stroke="#2ca02c" stroke-width="1.0" stroke-linejoin="miter"/>
<polygon points="58.17,459.35 60.43,459.35 60.43,461.61 62.70,461.61 62.70,463.88 60.43,463.88 60.43,466.15 58.17,466.15 58.17,463.88 55.90,463.88 55.90,461.61 58.17,461.61" fill="#2ca02c" stroke="#2ca02c" stroke-width="1.0" stroke-linejoin="miter"/>
<polygon points="76.77,444.31 79.03,444.31 79.03,446.58 81.30,446.58 81.30,448.85 79.03,448.85 79.03,451.11 76.77,451.11 76.77,448.85 74.50,448.85 74.50,446.58 76.77,446.58" fill="#2ca02c" stroke="#2ca02c" stroke-width="1.0" stroke-linejoin="miter"/>
<polygon points="95.37,428.03 97.63,428.03 97.63,430.29 99.90,430.29 99.90,432.56 97.63,432.56 97.63,434.83 95.37,434.83 95.37,432.56 93.10,432.56 93.10,430.29 95.37,430.29" fill="#2ca02c" stroke="#2ca02c" stroke-width="1.0" stroke-linejoin="miter"/>
<polygon points="113.97,410.28 116.23,410.28 116.23,412.55 118.50,412.55 118.50,414.81 116.23,414.81 116.23,417.08 113.97,417.08 113.97,414.81 111.70,414.81 111.70,412.55 113.97,412.55" fill="#2ca02c" stroke="#2ca02c" stroke-width="1.0" stroke-linejoin="miter"/>
<polygon points="132.57,392.11 134.83,392.11 134.83,394.38 137.10,394.38 137.10,396.65 134.83,396.65 134.83,398.91 132.57,398.91 132.57,396.65 130.30,396.65 130.30,394.38 132.57,394.38" fill="#2ca02c" stroke="#2ca02c" stroke-width="1.0" stroke-linejoin="miter"/>
<polygon points="151.17,373.53 153.43,373.53 153.43,375.80 155.70,375.80 155.70,378.06 153.43,378.06 153.43,380.33 151.17,380.33 151.17,378.06 148.90,378.06 148.90,375.80 151.17,375.80" fill="#2ca02c" stroke="#2ca02c" stroke-width="1.0" stroke-linejoin="miter"/>
<polygon points="169.77,357.66 172.03,357.66 172.03,359.93 174.30,359.93 174.30,362.19 172.03,362.19 172.03,364.46 169.77,364.46 169.77,362.19 167.50,362.19 167.50,359.93 169.77,359.93" fill="#2ca02c" stroke="#2ca02c" stroke-width="1.0" stroke-linejoin="miter"/>
<polygon points="188.37,336.78 190.63,336.78 190.63,339.05 192.90,339.05 192.90,341.31 190.63,341.31 190.63,343.58 188.37,343.58 188.37,341.31 186.10,341.31 186.10,339.05 188.37,339.05" fill="#2ca02c" stroke="#2ca02c" stroke-width="1.0" stroke-linejoin="miter"/>
<polygon points="206.97,317.99 209.23,317.99 209.23,320.26 211.50,320.26 211.50,322.52 209.23,322.52 209.23,324.79 206.97,324.79 206.97,322.52 204.70,322.52 204.70,320.26 206.97,320.26" fill="#2ca02c" stroke="#2ca02c" stroke-width="1.0" stroke-linejoin="miter"/>
<polygon points="225.57,303.79 227.83,303.79 227.83,306.06 230.10,306.06 230.10,308.32 227.83,308.32 227.83,310.59 225.57,310.59 225.57,308.32 223.30,308.32 223.30,306.06 225.57,306.06" fill="#2ca02c" stroke="#2ca02c" stroke-width="1.0" stroke-linejoin="miter"/>
<polygon points="244.17,290.01 246.43,290.01 246.43,292.28 248.70,292.28 248.70,294.54 246.43,294.54 246.43,296.81 244.17,296.81 244.17,294.54 241.90,294.54 241.90,292.28 244.17,292.28" fill="#2ca02c" stroke="#2ca02c" stroke-width="1.0" stroke-linejoin="miter"/>
<polyline points="40.70,465.88 59.30,447.30 77.90,434.14 96.50,415.77 115.10,400.11 133.70,381.32 152.30,366.49 170.90,351.46 189.50,335.17 208.10,318.47 226.70,303.02 245.30,287.98" fill="none" stroke="#d62728" stroke-width="1.5" stroke-linejoin="round" stroke-linecap="round"/>
<polygon points="39.05,462.58 40.70,464.23 42.35,462.58 44.00,464.23 42.35,465.88 44.00,467.53 42.35,469.18 40.70,467.53 39.05,469.18 37.40,467.53 39.05,465.88 37.40,464.23" fill="#d62728" stroke="#d62728" stroke-width="1.0" stroke-linejoin="miter"/>
<polygon points="57.65,444.00 59.30,445.65 60.95,444.00 62.60,445.65 60.95,447.30 62.60,448.95 60.95,450.60 59.30,448.95 57.65,450.60 56.00,448.95 57.65,447.30 56.00,445.65" fill="#d62728" stroke="#d62728" stroke-width="1.0" stroke-linejoin="miter"/>
<polygon points="76.25,430.84 77.90,432.49 79.55,430.84 81.20,432.49 79.55,434.14 81.20,435.79 79.55,437.44 77.90,435.79 76.25,437.44 74.60,435.79 76.25,434.14 74.60,432.49" fill="#d62728" stroke="#d62728" stroke-width="1.0" stroke-linejoin="miter"/>
<polygon points="94.85,412.47 96.50,414.12 98.15,412.47 99.80,414.12 98.15,415.77 99.80,417.42 98.15,419.07 96.50,417.42 94.85,419.07 93.20,417.42 94.85,415.77 93.20,414.12" fill="#d62728" stroke="#d62728" stroke-width="1.0" stroke-linejoin="miter"/>
<polygon points="113.45,396.81 115.10,398.46 116.75,396.81 118.40,398.46 116.75,400.11 118.40,401.76 116.75,403.41 115.10,401.76 113.45,403.41 111.80,401.76 113.45,400.11 111.80,398.46" fill="#d62728" stroke="#d62728" stroke-width="1.0" stroke-linejoin="miter"/>
<polygon points="132.05,378.02 133.70,379.67 135.35,378.02 137.00,379.67 135.35,381.32 137.00,382.97 135.35,384.62 133.70,382.97 132.05,384.62 130.40,382.97 132.05,381.32 130.40,379.67" fill="#d62728" stroke="#d62728" stroke-width="1.0" stroke-linejoin="miter"/>
<polygon points="150.65,363.19 152.30,364.84 153.95,363.19 155.60,364.84 153.95,366.49 155.60,368.14 153.95,369.79 152.30,368.14 150.65,369.79 149.00,368.14 150.65,366.49 149.00,364.84" fill="#d62728" stroke="#d62728" stroke-width="1.0" stroke-linejoin="miter"/>
<polygon points="169.25,348.16 170.90,349.81 172.55,348.16 174.20,349.81 172.55,351.46 174.20,353.11 172.55,354.76 170.90,353.11 169.25,354.76 167.60,353.11 169.25,351.46 167.60,349.81" fill="#d62728" stroke="#d62728" stroke-width="1.0" stroke-linejoin="miter"/>
<polygon points="187.85,331.87 189.50,333.52 191.15,331.87 192.80,333.52 191.15,335.17 192.80,336.82 191.15,338.47 189.50,336.82 187.85,338.47 186.20,336.82 187.85,335.17 186.20,333.52" fill="#d62728" stroke="#d62728" stroke-width="1.0" stroke-linejoin="miter"/>
<polygon points="206.45,315.17 208.10,316.82 209.75,315.17 211.40,316.82 209.75,318.47 211.40,320.12 209.75,321.77 208.10,320.12 206.45,321.77 204.80,320.12 206.45,318.47 204.80,316.82" fill="#d62728" stroke="#d62728" stroke-width="1.0" stroke-linejoin="miter"/>
<polygon points="225.05,299.72 226.70,301.37 228.35,299.72 230.00,301.37 228.35,303.02 230.00,304.67 228.35,306.32 226.70,304.67 225.05,306.32 223.40,304.67 225.05,303.02 223.40,301.37" fill="#d62728" stroke="#d62728" stroke-width="1.0" stroke-linejoin="miter"/>
<polygon points="243.65,284.68 245.30,286.33 246.95,284.68 248.60,286.33 246.95,287.98 248.60,289.63 246.95,291.28 245.30,289.63 243.65,291.28 242.00,289.63 243.65,287.98 242.00,286.33" fill="#d62728" stroke="#d62728" stroke-width="1.0" stroke-linejoin="miter"/>
<rect x="30.5" y="278.2" width="225.1" height="219.3" fill="none" stroke="#333" stroke-width="0.9"/>
<line x1="40.70" y1="497.5" x2="40.70" y2="500.2" stroke="#333" stroke-width="0.9"/>
<text x="40.70" y="508.9" text-anchor="middle" font-size="9.5">0</text>
<line x1="77.90" y1="497.5" x2="77.90" y2="500.2" stroke="#333" stroke-width="0.9"/>
<text x="77.90" y="508.9" text-anchor="middle" font-size="9.5">2</text>
<line x1="115.10" y1="497.5" x2="115.10" y2="500.2" stroke="#333" stroke-width="0.9"/>
<text x="115.10" y="508.9" text-anchor="middle" font-size="9.5">4</text>
<line x1="152.30" y1="497.5" x2="152.30" y2="500.2" stroke="#333" stroke-width="0.9"/>
<text x="152.30" y="508.9" text-anchor="middle" font-size="9.5">6</text>
<line x1="189.50" y1="497.5" x2="189.50" y2="500.2" stroke="#333" stroke-width="0.9"/>
<text x="189.50" y="508.9" text-anchor="middle" font-size="9.5">8</text>
<line x1="226.70" y1="497.5" x2="226.70" y2="500.2" stroke="#333" stroke-width="0.9"/>
<text x="226.70" y="508.9" text-anchor="middle" font-size="9.5">10</text>
<line x1="27.8" y1="490.10" x2="30.5" y2="490.10" stroke="#333" stroke-width="0.9"/>
<text x="25.5" y="493.40" text-anchor="end" font-size="9.5">0</text>
<line x1="27.8" y1="448.34" x2="30.5" y2="448.34" stroke="#333" stroke-width="0.9"/>
<text x="25.5" y="451.64" text-anchor="end" font-size="9.5">2</text>
<line x1="27.8" y1="406.58" x2="30.5" y2="406.58" stroke="#333" stroke-width="0.9"/>
<text x="25.5" y="409.88" text-anchor="end" font-size="9.5">4</text>
<line x1="27.8" y1="364.82" x2="30.5" y2="364.82" stroke="#333" stroke-width="0.9"/>
<text x="25.5" y="368.12" text-anchor="end" font-size="9.5">6</text>
<line x1="27.8" y1="323.06" x2="30.5" y2="323.06" stroke="#333" stroke-width="0.9"/>
<text x="25.5" y="326.36" text-anchor="end" font-size="9.5">8</text>
<line x1="27.8" y1="281.30" x2="30.5" y2="281.30" stroke="#333" stroke-width="0.9"/>
<text x="25.5" y="284.60" text-anchor="end" font-size="9.5">10</text>
<text x="143.05" y="273.9" text-anchor="middle" font-size="12" textLength="257.7" lengthAdjust="spacingAndGlyphs">(c) Sensor Characteristics for Ethyl Methyl Ketone</text>
<text x="143.05" y="521.7" text-anchor="middle" font-size="12">% Concentration of Ethyl Methyl Ketone</text>
<text transform="translate(12.399999999999999,387.85) rotate(-90)" x="0" y="0" text-anchor="middle" font-size="12">% Change in Resistance</text>
<rect x="38.7" y="286.0" width="91" height="91" rx="2.5" fill="#fff" fill-opacity="0.8" stroke="#d6d6d6" stroke-width="0.9"/>
<line x1="44.0" y1="297.2" x2="76.2" y2="297.2" stroke="#1f77b4" stroke-width="1.5"/>
<polygon points="59.70,292.90 64.00,297.20 59.70,301.50 55.40,297.20" fill="#1f77b4" stroke="#1f77b4" stroke-width="1.0" stroke-linejoin="miter"/>
<text x="88.0" y="302.09999999999997" font-size="15">CdS</text>
<line x1="44.0" y1="319.0" x2="76.2" y2="319.0" stroke="#ff7f0e" stroke-width="1.5"/>
<circle cx="59.70" cy="319.00" r="3.0" fill="#ff7f0e" stroke="#ff7f0e" stroke-width="1.0" stroke-linejoin="miter"/>
<text x="88.0" y="323.9" font-size="15">MoO</text>
<line x1="44.0" y1="340.8" x2="76.2" y2="340.8" stroke="#2ca02c" stroke-width="1.5"/>
<polygon points="58.57,337.40 60.83,337.40 60.83,339.67 63.10,339.67 63.10,341.93 60.83,341.93 60.83,344.20 58.57,344.20 58.57,341.93 56.30,341.93 56.30,339.67 58.57,339.67" fill="#2ca02c" stroke="#2ca02c" stroke-width="1.0" stroke-linejoin="miter"/>
<text x="88.0" y="345.7" font-size="15">SnO2</text>
<line x1="44.0" y1="362.6" x2="76.2" y2="362.6" stroke="#d62728" stroke-width="1.5"/>
<polygon points="58.05,359.30 59.70,360.95 61.35,359.30 63.00,360.95 61.35,362.60 63.00,364.25 61.35,365.90 59.70,364.25 58.05,365.90 56.40,364.25 58.05,362.60 56.40,360.95" fill="#d62728" stroke="#d62728" stroke-width="1.0" stroke-linejoin="miter"/>
<text x="88.0" y="367.5" font-size="15">ZnO</text>
<polyline points="311.00,486.57 329.56,483.78 348.12,481.56 366.68,480.49 385.24,479.06 403.80,477.27 422.36,475.34 440.92,471.27 459.48,469.12 478.04,466.33 496.60,464.62 515.16,463.19" fill="none" stroke="#1f77b4" stroke-width="1.5" stroke-linejoin="round" stroke-linecap="round"/>
<polygon points="311.00,482.27 315.30,486.57 311.00,490.87 306.70,486.57" fill="#1f77b4" stroke="#1f77b4" stroke-width="1.0" stroke-linejoin="miter"/>
<polygon points="329.56,479.48 333.86,483.78 329.56,488.08 325.26,483.78" fill="#1f77b4" stroke="#1f77b4" stroke-width="1.0" stroke-linejoin="miter"/>
<polygon points="348.12,477.26 352.42,481.56 348.12,485.86 343.82,481.56" fill="#1f77b4" stroke="#1f77b4" stroke-width="1.0" stroke-linejoin="miter"/>
<polygon points="366.68,476.19 370.98,480.49 366.68,484.79 362.38,480.49" fill="#1f77b4" stroke="#1f77b4" stroke-width="1.0" stroke-linejoin="miter"/>
<polygon points="385.24,474.76 389.54,479.06 385.24,483.36 380.94,479.06" fill="#1f77b4" stroke="#1f77b4" stroke-width="1.0" stroke-linejoin="miter"/>
<polygon points="403.80,472.97 408.10,477.27 403.80,481.57 399.50,477.27" fill="#1f77b4" stroke="#1f77b4" stroke-width="1.0" stroke-linejoin="miter"/>
<polygon points="422.36,471.04 426.66,475.34 422.36,479.64 418.06,475.34" fill="#1f77b4" stroke="#1f77b4" stroke-width="1.0" stroke-linejoin="miter"/>
<polygon points="440.92,466.97 445.22,471.27 440.92,475.57 436.62,471.27" fill="#1f77b4" stroke="#1f77b4" stroke-width="1.0" stroke-linejoin="miter"/>
<polygon points="459.48,464.82 463.78,469.12 459.48,473.42 455.18,469.12" fill="#1f77b4" stroke="#1f77b4" stroke-width="1.0" stroke-linejoin="miter"/>
<polygon points="478.04,462.03 482.34,466.33 478.04,470.63 473.74,466.33" fill="#1f77b4" stroke="#1f77b4" stroke-width="1.0" stroke-linejoin="miter"/>
<polygon points="496.60,460.32 500.90,464.62 496.60,468.92 492.30,464.62" fill="#1f77b4" stroke="#1f77b4" stroke-width="1.0" stroke-linejoin="miter"/>
<polygon points="515.16,458.89 519.46,463.19 515.16,467.49 510.86,463.19" fill="#1f77b4" stroke="#1f77b4" stroke-width="1.0" stroke-linejoin="miter"/>
<polyline points="311.00,487.36 329.56,486.64 348.12,486.43 366.68,486.00 385.24,486.43 403.80,486.43 422.36,485.00 440.92,485.00 459.48,484.92 478.04,483.14 496.60,482.06 515.16,481.21" fill="none" stroke="#ff7f0e" stroke-width="1.5" stroke-linejoin="round" stroke-linecap="round"/>
<circle cx="311.00" cy="487.36" r="3.0" fill="#ff7f0e" stroke="#ff7f0e" stroke-width="1.0" stroke-linejoin="miter"/>
<circle cx="329.56" cy="486.64" r="3.0" fill="#ff7f0e" stroke="#ff7f0e" stroke-width="1.0" stroke-linejoin="miter"/>
<circle cx="348.12" cy="486.43" r="3.0" fill="#ff7f0e" stroke="#ff7f0e" stroke-width="1.0" stroke-linejoin="miter"/>
<circle cx="366.68" cy="486.00" r="3.0" fill="#ff7f0e" stroke="#ff7f0e" stroke-width="1.0" stroke-linejoin="miter"/>
<circle cx="385.24" cy="486.43" r="3.0" fill="#ff7f0e" stroke="#ff7f0e" stroke-width="1.0" stroke-linejoin="miter"/>
<circle cx="403.80" cy="486.43" r="3.0" fill="#ff7f0e" stroke="#ff7f0e" stroke-width="1.0" stroke-linejoin="miter"/>
<circle cx="422.36" cy="485.00" r="3.0" fill="#ff7f0e" stroke="#ff7f0e" stroke-width="1.0" stroke-linejoin="miter"/>
<circle cx="440.92" cy="485.00" r="3.0" fill="#ff7f0e" stroke="#ff7f0e" stroke-width="1.0" stroke-linejoin="miter"/>
<circle cx="459.48" cy="484.92" r="3.0" fill="#ff7f0e" stroke="#ff7f0e" stroke-width="1.0" stroke-linejoin="miter"/>
<circle cx="478.04" cy="483.14" r="3.0" fill="#ff7f0e" stroke="#ff7f0e" stroke-width="1.0" stroke-linejoin="miter"/>
<circle cx="496.60" cy="482.06" r="3.0" fill="#ff7f0e" stroke="#ff7f0e" stroke-width="1.0" stroke-linejoin="miter"/>
<circle cx="515.16" cy="481.21" r="3.0" fill="#ff7f0e" stroke="#ff7f0e" stroke-width="1.0" stroke-linejoin="miter"/>
<polyline points="311.00,477.70 329.56,463.90 348.12,448.67 366.68,431.59 385.24,414.78 403.80,396.48 422.36,378.89 440.92,364.73 459.48,341.28 478.04,323.83 496.60,310.04 515.16,287.87" fill="none" stroke="#2ca02c" stroke-width="1.5" stroke-linejoin="round" stroke-linecap="round"/>
<polygon points="309.87,474.30 312.13,474.30 312.13,476.57 314.40,476.57 314.40,478.84 312.13,478.84 312.13,481.10 309.87,481.10 309.87,478.84 307.60,478.84 307.60,476.57 309.87,476.57" fill="#2ca02c" stroke="#2ca02c" stroke-width="1.0" stroke-linejoin="miter"/>
<polygon points="328.43,460.50 330.69,460.50 330.69,462.77 332.96,462.77 332.96,465.04 330.69,465.04 330.69,467.30 328.43,467.30 328.43,465.04 326.16,465.04 326.16,462.77 328.43,462.77" fill="#2ca02c" stroke="#2ca02c" stroke-width="1.0" stroke-linejoin="miter"/>
<polygon points="346.99,445.27 349.25,445.27 349.25,447.54 351.52,447.54 351.52,449.81 349.25,449.81 349.25,452.07 346.99,452.07 346.99,449.81 344.72,449.81 344.72,447.54 346.99,447.54" fill="#2ca02c" stroke="#2ca02c" stroke-width="1.0" stroke-linejoin="miter"/>
<polygon points="365.55,428.19 367.81,428.19 367.81,430.45 370.08,430.45 370.08,432.72 367.81,432.72 367.81,434.99 365.55,434.99 365.55,432.72 363.28,432.72 363.28,430.45 365.55,430.45" fill="#2ca02c" stroke="#2ca02c" stroke-width="1.0" stroke-linejoin="miter"/>
<polygon points="384.11,411.38 386.37,411.38 386.37,413.65 388.64,413.65 388.64,415.92 386.37,415.92 386.37,418.18 384.11,418.18 384.11,415.92 381.84,415.92 381.84,413.65 384.11,413.65" fill="#2ca02c" stroke="#2ca02c" stroke-width="1.0" stroke-linejoin="miter"/>
<polygon points="402.67,393.08 404.93,393.08 404.93,395.35 407.20,395.35 407.20,397.61 404.93,397.61 404.93,399.88 402.67,399.88 402.67,397.61 400.40,397.61 400.40,395.35 402.67,395.35" fill="#2ca02c" stroke="#2ca02c" stroke-width="1.0" stroke-linejoin="miter"/>
<polygon points="421.23,375.49 423.49,375.49 423.49,377.76 425.76,377.76 425.76,380.02 423.49,380.02 423.49,382.29 421.23,382.29 421.23,380.02 418.96,380.02 418.96,377.76 421.23,377.76" fill="#2ca02c" stroke="#2ca02c" stroke-width="1.0" stroke-linejoin="miter"/>
<polygon points="439.79,361.33 442.05,361.33 442.05,363.60 444.32,363.60 444.32,365.87 442.05,365.87 442.05,368.13 439.79,368.13 439.79,365.87 437.52,365.87 437.52,363.60 439.79,363.60" fill="#2ca02c" stroke="#2ca02c" stroke-width="1.0" stroke-linejoin="miter"/>
<polygon points="458.35,337.88 460.61,337.88 460.61,340.15 462.88,340.15 462.88,342.41 460.61,342.41 460.61,344.68 458.35,344.68 458.35,342.41 456.08,342.41 456.08,340.15 458.35,340.15" fill="#2ca02c" stroke="#2ca02c" stroke-width="1.0" stroke-linejoin="miter"/>
<polygon points="476.91,320.44 479.17,320.44 479.17,322.70 481.44,322.70 481.44,324.97 479.17,324.97 479.17,327.23 476.91,327.23 476.91,324.97 474.64,324.97 474.64,322.70 476.91,322.70" fill="#2ca02c" stroke="#2ca02c" stroke-width="1.0" stroke-linejoin="miter"/>
<polygon points="495.47,306.64 497.73,306.64 497.73,308.90 500.00,308.90 500.00,311.17 497.73,311.17 497.73,313.44 495.47,313.44 495.47,311.17 493.20,311.17 493.20,308.90 495.47,308.90" fill="#2ca02c" stroke="#2ca02c" stroke-width="1.0" stroke-linejoin="miter"/>
<polygon points="514.03,284.47 516.29,284.47 516.29,286.74 518.56,286.74 518.56,289.00 516.29,289.00 516.29,291.27 514.03,291.27 514.03,289.00 511.76,289.00 511.76,286.74 514.03,286.74" fill="#2ca02c" stroke="#2ca02c" stroke-width="1.0" stroke-linejoin="miter"/>
<polyline points="311.00,486.50 329.56,486.71 348.12,485.50 366.68,485.50 385.24,484.71 403.80,480.99 422.36,478.35 440.92,475.84 459.48,472.05 478.04,466.69 496.60,462.40 515.16,458.83" fill="none" stroke="#d62728" stroke-width="1.5" stroke-linejoin="round" stroke-linecap="round"/>
<polygon points="309.35,483.20 311.00,484.85 312.65,483.20 314.30,484.85 312.65,486.50 314.30,488.15 312.65,489.80 311.00,488.15 309.35,489.80 307.70,488.15 309.35,486.50 307.70,484.85" fill="#d62728" stroke="#d62728" stroke-width="1.0" stroke-linejoin="miter"/>
<polygon points="327.91,483.41 329.56,485.06 331.21,483.41 332.86,485.06 331.21,486.71 332.86,488.36 331.21,490.01 329.56,488.36 327.91,490.01 326.26,488.36 327.91,486.71 326.26,485.06" fill="#d62728" stroke="#d62728" stroke-width="1.0" stroke-linejoin="miter"/>
<polygon points="346.47,482.20 348.12,483.85 349.77,482.20 351.42,483.85 349.77,485.50 351.42,487.15 349.77,488.80 348.12,487.15 346.47,488.80 344.82,487.15 346.47,485.50 344.82,483.85" fill="#d62728" stroke="#d62728" stroke-width="1.0" stroke-linejoin="miter"/>
<polygon points="365.03,482.20 366.68,483.85 368.33,482.20 369.98,483.85 368.33,485.50 369.98,487.15 368.33,488.80 366.68,487.15 365.03,488.80 363.38,487.15 365.03,485.50 363.38,483.85" fill="#d62728" stroke="#d62728" stroke-width="1.0" stroke-linejoin="miter"/>
<polygon points="383.59,481.41 385.24,483.06 386.89,481.41 388.54,483.06 386.89,484.71 388.54,486.36 386.89,488.01 385.24,486.36 383.59,488.01 381.94,486.36 383.59,484.71 381.94,483.06" fill="#d62728" stroke="#d62728" stroke-width="1.0" stroke-linejoin="miter"/>
<polygon points="402.15,477.69 403.80,479.34 405.45,477.69 407.10,479.34 405.45,480.99 407.10,482.64 405.45,484.29 403.80,482.64 402.15,484.29 400.50,482.64 402.15,480.99 400.50,479.34" fill="#d62728" stroke="#d62728" stroke-width="1.0" stroke-linejoin="miter"/>
<polygon points="420.71,475.05 422.36,476.70 424.01,475.05 425.66,476.70 424.01,478.35 425.66,480.00 424.01,481.65 422.36,480.00 420.71,481.65 419.06,480.00 420.71,478.35 419.06,476.70" fill="#d62728" stroke="#d62728" stroke-width="1.0" stroke-linejoin="miter"/>
<polygon points="439.27,472.54 440.92,474.19 442.57,472.54 444.22,474.19 442.57,475.84 444.22,477.49 442.57,479.14 440.92,477.49 439.27,479.14 437.62,477.49 439.27,475.84 437.62,474.19" fill="#d62728" stroke="#d62728" stroke-width="1.0" stroke-linejoin="miter"/>
<polygon points="457.83,468.75 459.48,470.40 461.13,468.75 462.78,470.40 461.13,472.05 462.78,473.70 461.13,475.35 459.48,473.70 457.83,475.35 456.18,473.70 457.83,472.05 456.18,470.40" fill="#d62728" stroke="#d62728" stroke-width="1.0" stroke-linejoin="miter"/>
<polygon points="476.39,463.39 478.04,465.04 479.69,463.39 481.34,465.04 479.69,466.69 481.34,468.34 479.69,469.99 478.04,468.34 476.39,469.99 474.74,468.34 476.39,466.69 474.74,465.04" fill="#d62728" stroke="#d62728" stroke-width="1.0" stroke-linejoin="miter"/>
<polygon points="494.95,459.10 496.60,460.75 498.25,459.10 499.90,460.75 498.25,462.40 499.90,464.05 498.25,465.70 496.60,464.05 494.95,465.70 493.30,464.05 494.95,462.40 493.30,460.75" fill="#d62728" stroke="#d62728" stroke-width="1.0" stroke-linejoin="miter"/>
<polygon points="513.51,455.53 515.16,457.18 516.81,455.53 518.46,457.18 516.81,458.83 518.46,460.48 516.81,462.13 515.16,460.48 513.51,462.13 511.86,460.48 513.51,458.83 511.86,457.18" fill="#d62728" stroke="#d62728" stroke-width="1.0" stroke-linejoin="miter"/>
<rect x="300.8" y="278.2" width="225.2" height="219.5" fill="none" stroke="#333" stroke-width="0.9"/>
<line x1="311.00" y1="497.7" x2="311.00" y2="500.4" stroke="#333" stroke-width="0.9"/>
<text x="311.00" y="509.09999999999997" text-anchor="middle" font-size="9.5">0</text>
<line x1="348.12" y1="497.7" x2="348.12" y2="500.4" stroke="#333" stroke-width="0.9"/>
<text x="348.12" y="509.09999999999997" text-anchor="middle" font-size="9.5">2</text>
<line x1="385.24" y1="497.7" x2="385.24" y2="500.4" stroke="#333" stroke-width="0.9"/>
<text x="385.24" y="509.09999999999997" text-anchor="middle" font-size="9.5">4</text>
<line x1="422.36" y1="497.7" x2="422.36" y2="500.4" stroke="#333" stroke-width="0.9"/>
<text x="422.36" y="509.09999999999997" text-anchor="middle" font-size="9.5">6</text>
<line x1="459.48" y1="497.7" x2="459.48" y2="500.4" stroke="#333" stroke-width="0.9"/>
<text x="459.48" y="509.09999999999997" text-anchor="middle" font-size="9.5">8</text>
<line x1="496.60" y1="497.7" x2="496.60" y2="500.4" stroke="#333" stroke-width="0.9"/>
<text x="496.60" y="509.09999999999997" text-anchor="middle" font-size="9.5">10</text>
<line x1="298.1" y1="489.00" x2="300.8" y2="489.00" stroke="#333" stroke-width="0.9"/>
<text x="295.8" y="492.30" text-anchor="end" font-size="9.5">0</text>
<line x1="298.1" y1="453.25" x2="300.8" y2="453.25" stroke="#333" stroke-width="0.9"/>
<text x="295.8" y="456.55" text-anchor="end" font-size="9.5">5</text>
<line x1="298.1" y1="417.50" x2="300.8" y2="417.50" stroke="#333" stroke-width="0.9"/>
<text x="295.8" y="420.80" text-anchor="end" font-size="9.5">10</text>
<line x1="298.1" y1="381.75" x2="300.8" y2="381.75" stroke="#333" stroke-width="0.9"/>
<text x="295.8" y="385.05" text-anchor="end" font-size="9.5">15</text>
<line x1="298.1" y1="346.00" x2="300.8" y2="346.00" stroke="#333" stroke-width="0.9"/>
<text x="295.8" y="349.30" text-anchor="end" font-size="9.5">20</text>
<line x1="298.1" y1="310.25" x2="300.8" y2="310.25" stroke="#333" stroke-width="0.9"/>
<text x="295.8" y="313.55" text-anchor="end" font-size="9.5">25</text>
<text x="413.4" y="273.9" text-anchor="middle" font-size="12">(d) Sensor Characteristics for Xylene</text>
<text x="413.4" y="521.9" text-anchor="middle" font-size="12">% Concentration of Xylene</text>
<text transform="translate(282.40000000000003,387.95) rotate(-90)" x="0" y="0" text-anchor="middle" font-size="12">% Change in Resistance</text>
<rect x="309.0" y="286.0" width="91" height="91" rx="2.5" fill="#fff" fill-opacity="0.8" stroke="#d6d6d6" stroke-width="0.9"/>
<line x1="314.3" y1="297.2" x2="346.5" y2="297.2" stroke="#1f77b4" stroke-width="1.5"/>
<polygon points="330.00,292.90 334.30,297.20 330.00,301.50 325.70,297.20" fill="#1f77b4" stroke="#1f77b4" stroke-width="1.0" stroke-linejoin="miter"/>
<text x="358.3" y="302.09999999999997" font-size="15">CdS</text>
<line x1="314.3" y1="319.0" x2="346.5" y2="319.0" stroke="#ff7f0e" stroke-width="1.5"/>
<circle cx="330.00" cy="319.00" r="3.0" fill="#ff7f0e" stroke="#ff7f0e" stroke-width="1.0" stroke-linejoin="miter"/>
<text x="358.3" y="323.9" font-size="15">MoO</text>
<line x1="314.3" y1="340.8" x2="346.5" y2="340.8" stroke="#2ca02c" stroke-width="1.5"/>
<polygon points="328.87,337.40 331.13,337.40 331.13,339.67 333.40,339.67 333.40,341.93 331.13,341.93 331.13,344.20 328.87,344.20 328.87,341.93 326.60,341.93 326.60,339.67 328.87,339.67" fill="#2ca02c" stroke="#2ca02c" stroke-width="1.0" stroke-linejoin="miter"/>
<text x="358.3" y="345.7" font-size="15">SnO2</text>
<line x1="314.3" y1="362.6" x2="346.5" y2="362.6" stroke="#d62728" stroke-width="1.5"/>
<polygon points="328.35,359.30 330.00,360.95 331.65,359.30 333.30,360.95 331.65,362.60 333.30,364.25 331.65,365.90 330.00,364.25 328.35,365.90 326.70,364.25 328.35,362.60 326.70,360.95" fill="#d62728" stroke="#d62728" stroke-width="1.0" stroke-linejoin="miter"/>
<text x="358.3" y="367.5" font-size="15">ZnO</text>
</svg></body></html>
